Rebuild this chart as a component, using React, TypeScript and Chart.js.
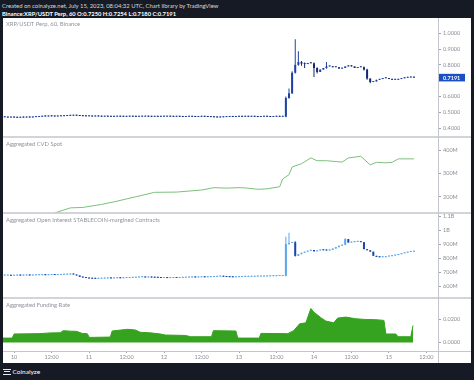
import React, { useEffect, useRef } from 'react';
import { Chart, registerables } from 'chart.js';
Chart.register(...registerables);

// ---------- data ----------
const HOUR_START = -3; // hours relative to July 10 00:00 UTC, hourly candles

const priceClose = [
  0.468, 0.466, 0.467, 0.466, 0.465, 0.467, 0.466, 0.468, 0.467, 0.469, 0.470,
  0.472, 0.474, 0.473, 0.475, 0.474, 0.473, 0.474, 0.475, 0.476, 0.477, 0.478,
  0.479, 0.478, 0.476, 0.475, 0.474, 0.474, 0.473, 0.474, 0.473, 0.472, 0.473,
  0.472, 0.471, 0.472, 0.473, 0.472, 0.471, 0.472, 0.473, 0.472, 0.471, 0.472,
  0.472, 0.473, 0.472, 0.471, 0.472, 0.471, 0.472, 0.472, 0.473, 0.472, 0.471,
  0.472, 0.471, 0.470, 0.471, 0.472, 0.471, 0.470, 0.471, 0.472, 0.471, 0.470,
  0.469, 0.468, 0.467, 0.468, 0.469, 0.470, 0.471, 0.470, 0.471, 0.472, 0.471,
  0.472, 0.471, 0.472, 0.471, 0.470, 0.471, 0.472, 0.471, 0.470, 0.471, 0.472, 0.471, 0.472,
  0.590, 0.620, 0.750, 0.800, 0.818, 0.808, 0.805, 0.812, 0.810, 0.780,
  0.755, 0.770, 0.780, 0.790, 0.790, 0.785, 0.785, 0.776, 0.780, 0.790,
  0.797, 0.790, 0.780, 0.785, 0.785, 0.770, 0.713, 0.691, 0.695, 0.705,
  0.710, 0.715, 0.715, 0.710, 0.705, 0.705, 0.710, 0.715, 0.718, 0.720,
  0.725, 0.7191,
];
// [hour, low, high]
const priceWicks = [
  [87, 0.468, 0.600], [88, 0.585, 0.650], [89, 0.615, 0.760], [90, 0.745, 0.963],
  [91, 0.795, 0.886], [92, 0.795, 0.825], [93, 0.780, 0.815], [96, 0.723, 0.815],
  [97, 0.745, 0.785], [100, 0.775, 0.818], [112, 0.765, 0.790], [113, 0.705, 0.775],
  [114, 0.683, 0.715], [128, 0.718, 0.7254],
];

// Open interest, millions USD
const oiClose = [
  679, 680, 678, 679, 680, 679, 680, 681, 680, 681, 682,
  682, 683, 682, 683, 684, 683, 684, 685, 686, 687, 689,
  687, 680, 670, 665, 662, 658, 657, 656, 657, 658, 659,
  660, 659, 660, 661, 660, 661, 662, 663, 664, 666, 667,
  667, 666, 667, 665, 664, 663, 662, 662, 661, 662, 663,
  662, 663, 664, 665, 666, 667, 666, 667, 668, 667, 668,
  669, 670, 672, 673, 671, 669, 668, 667, 668, 669, 670,
  670, 671, 671, 672, 672, 673, 673, 674, 675, 675, 676, 676, 677,
  905, 912, 917, 820, 832, 842, 850, 856, 862, 852,
  858, 862, 860, 858, 862, 872, 882, 892, 900, 940,
  915, 918, 920, 922, 918, 868, 860, 850, 820, 812,
  810, 810, 815, 818, 822, 826, 832, 838, 843, 848,
  850, 852,
];
const oiWicks = [
  [87, 675, 957], [88, 900, 985], [90, 815, 925], [106, 895, 945],
];

// CVD spot, millions
const cvdHours = [13, 18, 22, 28, 32, 39, 45, 52, 60, 64, 68, 72, 74, 78, 81, 85, 86, 88, 89, 92, 95, 97, 100, 105, 107, 111, 114, 116, 119, 121, 123, 128];
const cvdValues = [130, 152, 154, 167, 178, 200, 219, 220, 229, 239, 237, 239, 238, 232, 234, 243, 276, 295, 328, 342, 367, 355, 355, 349, 367, 374, 337, 348, 346, 348, 363, 363];

// Funding rate (%)
const fundHours = [-3.6, -0.6, 0, 8, 11.5, 14.8, 15.7, 18, 20, 21.8, 23.4, 24.1, 30.8, 31.4, 36.3, 38.8, 40.4, 43.6, 46.8, 48.4, 54.9, 56.5, 63.2, 63.8, 71, 71.6, 78.5, 79, 87.6, 89.5, 91.4, 93.4, 95, 95.9, 98.2, 99.8, 102.3, 103.6, 106.2, 109.4, 112.6, 115.8, 118.4, 119, 122.2, 122.9, 127, 127.7];
const fundValues = [0.0039, 0.0039, 0.0075, 0.0078, 0.0084, 0.0086, 0.0104, 0.0100, 0.0098, 0.0080, 0.0078, 0.0045, 0.0048, 0.0101, 0.0116, 0.0110, 0.0090, 0.0085, 0.0075, 0.0066, 0.0062, 0.0051, 0.0051, 0.0104, 0.0101, 0.0039, 0.0039, 0.0080, 0.0078, 0.0104, 0.0164, 0.0173, 0.0298, 0.0268, 0.0218, 0.0188, 0.0173, 0.0214, 0.0223, 0.0208, 0.0202, 0.0200, 0.0194, 0.0075, 0.0075, 0.0051, 0.0051, 0.0149];

const xTickHours = [0, 12, 24, 36, 48, 60, 72, 84, 96, 108, 120, 132];
const xTickLabels = ['10', '12:00', '11', '12:00', '12', '12:00', '13', '12:00', '14', '12:00', '15', '12:00'];
const priceTicks = [1.0, 0.9, 0.8, 0.6, 0.5, 0.4];
const cvdTicks = [200, 300, 400];
const oiTicks = [600, 700, 800, 900, 1000, 1100];
const fundTicks = [0, 0.02];
const paneTitles = [
  'XRP/USDT Perp, 60, Binance',
  'Aggregated CVD Spot',
  'Aggregated Open Interest STABLECOIN-margined Contracts',
  'Aggregated Funding Rate',
];
const headerLine1 = 'Created on coinalyze.net, July 15, 2023, 08:04:32 UTC, Chart library by TradingView';
const headerLine2 = 'Binance:XRP/USDT Perp, 60 O:0.7250 H:0.7254 L:0.7180 C:0.7191';

// ---------- styling ----------
const FONT = 'Lato, "Open Sans", sans-serif';
const DARK = '#161a25';
const AXIS_TXT = '#8a8e97';
const LINE = '#c3c6cc';
const PRICE_UP = '#1d42a6';
const PRICE_DOWN = '#152c6e';
const OI_UP = '#5aa7ec';
const OI_DOWN = '#1d47ad';
const CVD_COLOR = '#7cc07a';
const FUND_COLOR = '#35a31f';

type Candle = { x: number; o: number; c: number; l: number; h: number };

function buildCandles(close: number[], wicks: number[][]): Candle[] {
  return close.map((c, i) => {
    const x = HOUR_START + i;
    const o = i === 0 ? c : close[i - 1];
    const w = wicks.find((k) => k[0] === x);
    return { x, o, c, l: w ? w[1] : Math.min(o, c), h: w ? w[2] : Math.max(o, c) };
  });
}

function candleSets(cs: Candle[], axis: string, up: string, down: string) {
  const colors = cs.map((k) => (k.c >= k.o ? up : down));
  return [
    {
      type: 'bar' as const,
      yAxisID: axis,
      data: cs.map((k) => ({ x: k.x, y: [k.l, k.h] })),
      backgroundColor: colors,
      barThickness: 1,
      grouped: false,
      minBarLength: 1,
      inflateAmount: 0,
    },
    {
      type: 'bar' as const,
      yAxisID: axis,
      data: cs.map((k) => ({ x: k.x, y: [k.o, k.c] })),
      backgroundColor: colors,
      barThickness: 2,
      grouped: false,
      minBarLength: 1,
      inflateAmount: 0,
    },
  ];
}

function yAxis(weight: number, min: number, max: number, ticks: number[], fmt: (v: number) => string) {
  return {
    type: 'linear' as const,
    position: 'right' as const,
    stack: 'panes',
    stackWeight: weight,
    min,
    max,
    beginAtZero: false,
    afterBuildTicks: (s: any) => {
      s.ticks = ticks.map((v) => ({ value: v }));
    },
    afterFit: (s: any) => {
      s.width = 33;
      s.paddingTop = 0;
      s.paddingBottom = 0;
    },
    grid: { drawOnChartArea: false, drawTicks: true, tickLength: 3, color: '#9ea2aa', lineWidth: 1 },
    border: { display: true, color: LINE, width: 1 },
    ticks: {
      autoSkip: false,
      padding: 2,
      color: AXIS_TXT,
      font: { size: 5.5, family: FONT },
      callback: (v: any) => fmt(Number(v)),
    },
  };
}

const panePlugin = {
  id: 'panes',
  afterDraw(chart: any) {
    const { ctx, chartArea, scales, width, height } = chart;
    ctx.save();
    ctx.strokeStyle = LINE;
    ctx.lineWidth = 1.5;
    ['yC', 'yO', 'yF'].forEach((id) => {
      const y = Math.round(scales[id].top);
      ctx.beginPath();
      ctx.moveTo(0, y);
      ctx.lineTo(width, y);
      ctx.stroke();
    });
    ctx.lineWidth = 1;
    ctx.beginPath();
    ctx.moveTo(0, Math.round(chartArea.bottom) + 0.5);
    ctx.lineTo(width, Math.round(chartArea.bottom) + 0.5);
    ctx.moveTo(Math.round(chartArea.right) + 0.5, 0);
    ctx.lineTo(Math.round(chartArea.right) + 0.5, height);
    ctx.stroke();

    ctx.font = `5.8px ${FONT}`;
    ctx.fillStyle = '#8f939b';
    ctx.textBaseline = 'middle';
    ctx.textAlign = 'left';
    ['yP', 'yC', 'yO', 'yF'].forEach((id, i) => {
      ctx.fillText(paneTitles[i], 3, scales[id].top + (i === 0 ? 5.5 : 7));
    });

    const last = priceClose[priceClose.length - 1];
    const py = scales.yP.getPixelForValue(last);
    ctx.fillStyle = '#1b4fc4';
    ctx.fillRect(chartArea.right + 1, py - 3.8, 26, 7.6);
    ctx.fillStyle = '#ffffff';
    ctx.font = `bold 5.5px ${FONT}`;
    ctx.fillText(last.toFixed(4), chartArea.right + 5, py + 0.3);
    ctx.restore();
  },
};

export default function App() {
  const ref = useRef<HTMLCanvasElement>(null);
  useEffect(() => {
    const priceCandles = buildCandles(priceClose, priceWicks);
    const oiCandles = buildCandles(oiClose, oiWicks);
    const chart = new Chart(ref.current as HTMLCanvasElement, {
      type: 'bar',
      data: {
        datasets: [
          ...candleSets(priceCandles, 'yP', PRICE_UP, PRICE_DOWN),
          {
            type: 'line',
            yAxisID: 'yC',
            data: cvdHours.map((h, i) => ({ x: h, y: cvdValues[i] })),
            borderColor: CVD_COLOR,
            borderWidth: 1,
            pointRadius: 0,
            tension: 0,
          },
          ...candleSets(oiCandles, 'yO', OI_UP, OI_DOWN),
          {
            type: 'line',
            yAxisID: 'yF',
            data: fundHours.map((h, i) => ({ x: h, y: fundValues[i] })),
            borderColor: FUND_COLOR,
            backgroundColor: FUND_COLOR,
            borderWidth: 1,
            pointRadius: 0,
            tension: 0,
            fill: { value: 0 },
          },
        ] as any,
      },
      options: {
        animation: false,
        responsive: false,
        maintainAspectRatio: false,
        layout: { padding: { top: 1, left: 0, right: 0, bottom: 0 } },
        plugins: { legend: { display: false }, tooltip: { enabled: false } },
        scales: {
          x: {
            type: 'linear',
            position: 'bottom',
            min: -3.55,
            max: 135.7,
            offset: false,
            afterBuildTicks: (s: any) => {
              s.ticks = xTickHours.map((v) => ({ value: v }));
            },
            afterFit: (s: any) => {
              s.height = 12;
              s.paddingLeft = 0;
              s.paddingRight = 0;
            },
            grid: { drawOnChartArea: false, drawTicks: true, tickLength: 2, color: '#9ea2aa', offset: false },
            border: { display: true, color: LINE },
            ticks: {
              autoSkip: false,
              maxRotation: 0,
              minRotation: 0,
              padding: 1,
              color: AXIS_TXT,
              font: { size: 5.5, family: FONT },
              callback: (v: any) => {
                const idx = xTickHours.indexOf(Number(v));
                return idx >= 0 ? xTickLabels[idx] : '';
              },
            },
          },
          yP: yAxis(118, 0.343, 1.0905, priceTicks, (v) => v.toFixed(4)),
          yC: yAxis(76, 130, 457, cvdTicks, (v) => `${v}M`),
          yO: yAxis(85, 519, 1126, oiTicks, (v) => (v >= 1000 ? `${v / 1000}B` : `${v}M`)),
          yF: yAxis(53, -0.0074, 0.039, fundTicks, (v) => v.toFixed(4)),
        } as any,
      },
      plugins: [panePlugin],
    } as any);
    return () => chart.destroy();
  }, []);

  return (
    <div
      style={{
        position: 'fixed',
        left: 0,
        top: 0,
        width: 474,
        height: 380,
        background: DARK,
        overflow: 'hidden',
        fontFamily: FONT,
      }}
    >
      <div style={{ position: 'absolute', left: 2, top: 1.5, fontSize: 5.9, lineHeight: '7px', color: '#d6d8de', whiteSpace: 'nowrap' }}>
        {headerLine1}
      </div>
      <div style={{ position: 'absolute', left: 2, top: 9.5, fontSize: 5.8, lineHeight: '7px', color: '#ffffff', fontWeight: 700, whiteSpace: 'nowrap' }}>
        {headerLine2}
      </div>
      <div style={{ position: 'absolute', left: 3, top: 18, width: 468, height: 345, background: '#ffffff' }}>
        <canvas ref={ref} width={468} height={345} style={{ display: 'block', width: 468, height: 345 }} />
      </div>
      <div style={{ position: 'absolute', left: 3, top: 368.5, width: 8, height: 1, background: '#e8eaee' }} />
      <div style={{ position: 'absolute', left: 4, top: 371, width: 6, height: 1, background: '#e8eaee' }} />
      <div style={{ position: 'absolute', left: 3, top: 373.5, width: 8, height: 1, background: '#e8eaee' }} />
      <div style={{ position: 'absolute', left: 12.5, top: 368, fontSize: 6.5, lineHeight: '8px', color: '#ffffff', whiteSpace: 'nowrap' }}>
        Coinalyze
      </div>
    </div>
  );
}
